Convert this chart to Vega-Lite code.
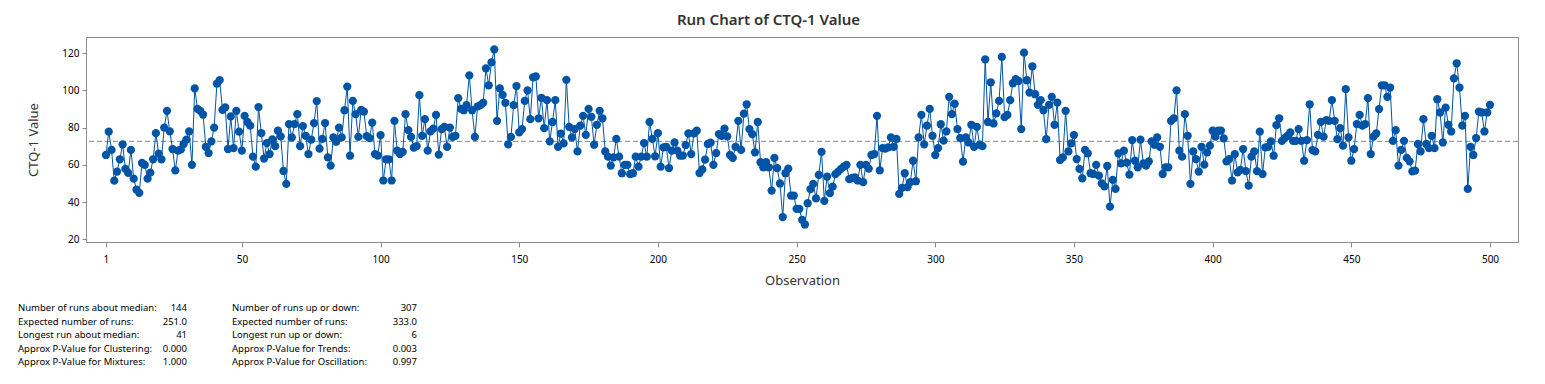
{
"$schema": "https://vega.github.io/schema/vega-lite/v6.json",
"padding": {"left": 18, "top": 12, "right": 20, "bottom": 5},
"background": "white",
"title": {"text": "Run Chart of CTQ-1 Value", "fontSize": 15, "fontWeight": 600, "font": "Noto Sans", "color": "#333333", "anchor": "middle", "offset": 9},
"config": {"view": {"stroke": "#8c8c8c", "strokeWidth": 1}, "font": "Noto Sans"},
"spacing": 15,
"vconcat": [
{
"width": 1432, "height": 205,
"data": {"values": [
{"obs":1,"value":65.3},{"obs":2,"value":77.8},{"obs":3,"value":68},{"obs":4,"value":51.5},{"obs":5,"value":56.4},{"obs":6,"value":63},{"obs":7,"value":71},{"obs":8,"value":57.8},{"obs":9,"value":55.7},{"obs":10,"value":68},
{"obs":11,"value":52.6},{"obs":12,"value":46.7},{"obs":13,"value":45},{"obs":14,"value":61},{"obs":15,"value":60},{"obs":16,"value":52.6},{"obs":17,"value":55.8},{"obs":18,"value":63},{"obs":19,"value":77},{"obs":20,"value":66},
{"obs":21,"value":63},{"obs":22,"value":80},{"obs":23,"value":89},{"obs":24,"value":78},{"obs":25,"value":68.5},{"obs":26,"value":57},{"obs":27,"value":67.6},{"obs":28,"value":68.3},{"obs":29,"value":71.2},{"obs":30,"value":73.5},
{"obs":31,"value":78},{"obs":32,"value":60},{"obs":33,"value":101},{"obs":34,"value":90},{"obs":35,"value":89},{"obs":36,"value":87},{"obs":37,"value":69.7},{"obs":38,"value":66.3},{"obs":39,"value":72.6},{"obs":40,"value":80},
{"obs":41,"value":103.6},{"obs":42,"value":105.5},{"obs":43,"value":89.5},{"obs":44,"value":90.8},{"obs":45,"value":68.5},{"obs":46,"value":86},{"obs":47,"value":69},{"obs":48,"value":89},{"obs":49,"value":77.8},{"obs":50,"value":67.6},
{"obs":51,"value":86.3},{"obs":52,"value":83},{"obs":53,"value":81},{"obs":54,"value":64.4},{"obs":55,"value":59},{"obs":56,"value":91},{"obs":57,"value":77},{"obs":58,"value":63.4},{"obs":59,"value":71.7},{"obs":60,"value":65.8},
{"obs":61,"value":73.7},{"obs":62,"value":70},{"obs":63,"value":78.3},{"obs":64,"value":75.3},{"obs":65,"value":56.7},{"obs":66,"value":49.8},{"obs":67,"value":81.9},{"obs":68,"value":74.7},{"obs":69,"value":81.9},{"obs":70,"value":87.2},
{"obs":71,"value":70},{"obs":72,"value":80.8},{"obs":73,"value":75.6},{"obs":74,"value":65.8},{"obs":75,"value":73.5},{"obs":76,"value":82.4},{"obs":77,"value":94.2},{"obs":78,"value":68.7},{"obs":79,"value":73.9},{"obs":80,"value":82.4},
{"obs":81,"value":64},{"obs":82,"value":59.6},{"obs":83,"value":74.7},{"obs":84,"value":72.4},{"obs":85,"value":80},{"obs":86,"value":74.7},{"obs":87,"value":89.3},{"obs":88,"value":102},{"obs":89,"value":64.9},{"obs":90,"value":94.3},
{"obs":91,"value":87.2},{"obs":92,"value":75},{"obs":93,"value":89.5},{"obs":94,"value":88.6},{"obs":95,"value":75.4},{"obs":96,"value":74.4},{"obs":97,"value":82.7},{"obs":98,"value":65.8},{"obs":99,"value":65},{"obs":100,"value":76},
{"obs":101,"value":51.6},{"obs":102,"value":63},{"obs":103,"value":63},{"obs":104,"value":51.6},{"obs":105,"value":83.6},{"obs":106,"value":67.6},{"obs":107,"value":65.8},{"obs":108,"value":67},{"obs":109,"value":87.2},{"obs":110,"value":78.6},
{"obs":111,"value":75},{"obs":112,"value":69.2},{"obs":113,"value":70},{"obs":114,"value":97.4},{"obs":115,"value":75.6},{"obs":116,"value":84.5},{"obs":117,"value":67.6},{"obs":118,"value":78},{"obs":119,"value":79.4},{"obs":120,"value":86.8},
{"obs":121,"value":65.5},{"obs":122,"value":79.2},{"obs":123,"value":80.4},{"obs":124,"value":69.7},{"obs":125,"value":80},{"obs":126,"value":75},{"obs":127,"value":75.6},{"obs":128,"value":95.8},{"obs":129,"value":90},{"obs":130,"value":89.3},
{"obs":131,"value":92},{"obs":132,"value":108},{"obs":133,"value":89.3},{"obs":134,"value":75},{"obs":135,"value":91.4},{"obs":136,"value":92},{"obs":137,"value":93.3},{"obs":138,"value":111.8},{"obs":139,"value":102.7},{"obs":140,"value":115},
{"obs":141,"value":122},{"obs":142,"value":83.6},{"obs":143,"value":101},{"obs":144,"value":97.5},{"obs":145,"value":93.3},{"obs":146,"value":71},{"obs":147,"value":75},{"obs":148,"value":92},{"obs":149,"value":102.3},{"obs":150,"value":77.4},
{"obs":151,"value":79.2},{"obs":152,"value":94.3},{"obs":153,"value":100},{"obs":154,"value":84.5},{"obs":155,"value":107},{"obs":156,"value":107.5},{"obs":157,"value":85},{"obs":158,"value":96},{"obs":159,"value":79.7},{"obs":160,"value":94.7},
{"obs":161,"value":72.6},{"obs":162,"value":83},{"obs":163,"value":94.7},{"obs":164,"value":69.7},{"obs":165,"value":76.8},{"obs":166,"value":71.5},{"obs":167,"value":105.6},{"obs":168,"value":80.4},{"obs":169,"value":74.7},{"obs":170,"value":79.2},
{"obs":171,"value":67.2},{"obs":172,"value":81},{"obs":173,"value":86.3},{"obs":174,"value":76.1},{"obs":175,"value":90},{"obs":176,"value":85.8},{"obs":177,"value":70.8},{"obs":178,"value":81.5},{"obs":179,"value":89},{"obs":180,"value":85},
{"obs":181,"value":67.2},{"obs":182,"value":64.4},{"obs":183,"value":59.6},{"obs":184,"value":64},{"obs":185,"value":73.9},{"obs":186,"value":64.4},{"obs":187,"value":55.5},{"obs":188,"value":60},{"obs":189,"value":60},{"obs":190,"value":55},
{"obs":191,"value":55.5},{"obs":192,"value":64.4},{"obs":193,"value":59},{"obs":194,"value":64.4},{"obs":195,"value":71.7},{"obs":196,"value":64.4},{"obs":197,"value":83},{"obs":198,"value":73.9},{"obs":199,"value":64.6},{"obs":200,"value":77},
{"obs":201,"value":59},{"obs":202,"value":69.4},{"obs":203,"value":69.7},{"obs":204,"value":58.3},{"obs":205,"value":67.6},{"obs":206,"value":72},{"obs":207,"value":67.6},{"obs":208,"value":65},{"obs":209,"value":65},{"obs":210,"value":70.6},
{"obs":211,"value":76.9},{"obs":212,"value":65.8},{"obs":213,"value":76.9},{"obs":214,"value":78.3},{"obs":215,"value":55.6},{"obs":216,"value":57.6},{"obs":217,"value":62.8},{"obs":218,"value":71.2},{"obs":219,"value":71.9},{"obs":220,"value":60},
{"obs":221,"value":66.3},{"obs":222,"value":76.5},{"obs":223,"value":75.6},{"obs":224,"value":79.4},{"obs":225,"value":75.3},{"obs":226,"value":65.3},{"obs":227,"value":63.7},{"obs":228,"value":69.7},{"obs":229,"value":83.6},{"obs":230,"value":68},
{"obs":231,"value":87.5},{"obs":232,"value":92.5},{"obs":233,"value":79.2},{"obs":234,"value":76.5},{"obs":235,"value":66.7},{"obs":236,"value":83},{"obs":237,"value":61.4},{"obs":238,"value":58.7},{"obs":239,"value":61.4},{"obs":240,"value":58.7},
{"obs":241,"value":46.2},{"obs":242,"value":63.7},{"obs":243,"value":58.3},{"obs":244,"value":50},{"obs":245,"value":32},{"obs":246,"value":55.5},{"obs":247,"value":58},{"obs":248,"value":43.5},{"obs":249,"value":43.5},{"obs":250,"value":36.4},
{"obs":251,"value":36.4},{"obs":252,"value":30.5},{"obs":253,"value":28},{"obs":254,"value":39.4},{"obs":255,"value":47},{"obs":256,"value":49.8},{"obs":257,"value":42},{"obs":258,"value":54.6},{"obs":259,"value":67},{"obs":260,"value":40.7},
{"obs":261,"value":53.7},{"obs":262,"value":44.8},{"obs":263,"value":48.3},{"obs":264,"value":55},{"obs":265,"value":56.4},{"obs":266,"value":57.8},{"obs":267,"value":59},{"obs":268,"value":60},{"obs":269,"value":52.3},{"obs":270,"value":53},
{"obs":271,"value":53.3},{"obs":272,"value":51.6},{"obs":273,"value":60},{"obs":274,"value":50.7},{"obs":275,"value":60},{"obs":276,"value":58},{"obs":277,"value":65.3},{"obs":278,"value":65.8},{"obs":279,"value":86.3},{"obs":280,"value":57},
{"obs":281,"value":69},{"obs":282,"value":68.7},{"obs":283,"value":69.4},{"obs":284,"value":74.7},{"obs":285,"value":69.7},{"obs":286,"value":73.9},{"obs":287,"value":44.4},{"obs":288,"value":47.6},{"obs":289,"value":55.5},{"obs":290,"value":48},
{"obs":291,"value":50.7},{"obs":292,"value":62.2},{"obs":293,"value":51.2},{"obs":294,"value":74.7},{"obs":295,"value":86.8},{"obs":296,"value":71},{"obs":297,"value":81},{"obs":298,"value":90},{"obs":299,"value":75.6},{"obs":300,"value":65.3},
{"obs":301,"value":69},{"obs":302,"value":81.8},{"obs":303,"value":73},{"obs":304,"value":78},{"obs":305,"value":96.5},{"obs":306,"value":87.2},{"obs":307,"value":92.8},{"obs":308,"value":79.2},{"obs":309,"value":74.4},{"obs":310,"value":61.7},
{"obs":311,"value":74.7},{"obs":312,"value":72},{"obs":313,"value":81.5},{"obs":314,"value":69.7},{"obs":315,"value":80.4},{"obs":316,"value":70.8},{"obs":317,"value":70},{"obs":318,"value":116.6},{"obs":319,"value":83},{"obs":320,"value":104.3},
{"obs":321,"value":82.2},{"obs":322,"value":87.6},{"obs":323,"value":94.3},{"obs":324,"value":117.9},{"obs":325,"value":85.6},{"obs":326,"value":86.8},{"obs":327,"value":94.7},{"obs":328,"value":103.8},{"obs":329,"value":106},{"obs":330,"value":105},
{"obs":331,"value":79.2},{"obs":332,"value":120.2},{"obs":333,"value":105.4},{"obs":334,"value":98.8},{"obs":335,"value":112.9},{"obs":336,"value":97.9},{"obs":337,"value":92.2},{"obs":338,"value":94.7},{"obs":339,"value":89.3},{"obs":340,"value":73.8},
{"obs":341,"value":92.2},{"obs":342,"value":96.5},{"obs":343,"value":81.5},{"obs":344,"value":93.4},{"obs":345,"value":62.6},{"obs":346,"value":64},{"obs":347,"value":89},{"obs":348,"value":67.2},{"obs":349,"value":71.5},{"obs":350,"value":76},
{"obs":351,"value":63.1},{"obs":352,"value":57.8},{"obs":353,"value":52.8},{"obs":354,"value":68},{"obs":355,"value":66.2},{"obs":356,"value":55.5},{"obs":357,"value":55.1},{"obs":358,"value":60},{"obs":359,"value":54.2},{"obs":360,"value":50.1},
{"obs":361,"value":48.5},{"obs":362,"value":59.4},{"obs":363,"value":37.6},{"obs":364,"value":51.9},{"obs":365,"value":47.1},{"obs":366,"value":66.2},{"obs":367,"value":60.8},{"obs":368,"value":67.6},{"obs":369,"value":61.2},{"obs":370,"value":54.8},
{"obs":371,"value":73.3},{"obs":372,"value":62.2},{"obs":373,"value":58.7},{"obs":374,"value":73.5},{"obs":375,"value":60.8},{"obs":376,"value":59.6},{"obs":377,"value":61.9},{"obs":378,"value":72.6},{"obs":379,"value":70.8},{"obs":380,"value":74.7},
{"obs":381,"value":69.7},{"obs":382,"value":55.1},{"obs":383,"value":58.7},{"obs":384,"value":58.7},{"obs":385,"value":83.6},{"obs":386,"value":85},{"obs":387,"value":100},{"obs":388,"value":67.6},{"obs":389,"value":64.4},{"obs":390,"value":87.2},
{"obs":391,"value":75.6},{"obs":392,"value":49.8},{"obs":393,"value":67.2},{"obs":394,"value":63.1},{"obs":395,"value":56.4},{"obs":396,"value":69.7},{"obs":397,"value":60.1},{"obs":398,"value":66.7},{"obs":399,"value":70.3},{"obs":400,"value":78.3},
{"obs":401,"value":75.1},{"obs":402,"value":78.3},{"obs":403,"value":78.3},{"obs":404,"value":74.2},{"obs":405,"value":61.9},{"obs":406,"value":63.1},{"obs":407,"value":51.6},{"obs":408,"value":65.8},{"obs":409,"value":56},{"obs":410,"value":57.3},
{"obs":411,"value":68.5},{"obs":412,"value":56.6},{"obs":413,"value":48.9},{"obs":414,"value":64.4},{"obs":415,"value":67.2},{"obs":416,"value":56.6},{"obs":417,"value":77.8},{"obs":418,"value":55.1},{"obs":419,"value":69.4},{"obs":420,"value":69.7},
{"obs":421,"value":72.6},{"obs":422,"value":64.9},{"obs":423,"value":81.3},{"obs":424,"value":85},{"obs":425,"value":72.9},{"obs":426,"value":74.4},{"obs":427,"value":75.6},{"obs":428,"value":77.4},{"obs":429,"value":72.9},{"obs":430,"value":72.9},
{"obs":431,"value":79.2},{"obs":432,"value":72.9},{"obs":433,"value":62.2},{"obs":434,"value":73.3},{"obs":435,"value":92.5},{"obs":436,"value":67.9},{"obs":437,"value":67.2},{"obs":438,"value":76.1},{"obs":439,"value":83.1},{"obs":440,"value":75.1},
{"obs":441,"value":84},{"obs":442,"value":83.6},{"obs":443,"value":94.7},{"obs":444,"value":83.6},{"obs":445,"value":73.8},{"obs":446,"value":79.7},{"obs":447,"value":70.3},{"obs":448,"value":100.6},{"obs":449,"value":74.7},{"obs":450,"value":62.2},
{"obs":451,"value":68.5},{"obs":452,"value":81.9},{"obs":453,"value":86.8},{"obs":454,"value":81},{"obs":455,"value":81.9},{"obs":456,"value":95.8},{"obs":457,"value":65.8},{"obs":458,"value":75.1},{"obs":459,"value":76.9},{"obs":460,"value":89.9},
{"obs":461,"value":102.7},{"obs":462,"value":102.7},{"obs":463,"value":96.5},{"obs":464,"value":101.5},{"obs":465,"value":72.9},{"obs":466,"value":78.6},{"obs":467,"value":59.6},{"obs":468,"value":68},{"obs":469,"value":72.9},{"obs":470,"value":63.7},
{"obs":471,"value":61.9},{"obs":472,"value":56.5},{"obs":473,"value":56.9},{"obs":474,"value":71.2},{"obs":475,"value":67.2},{"obs":476,"value":84.5},{"obs":477,"value":71.2},{"obs":478,"value":69},{"obs":479,"value":75.6},{"obs":480,"value":69},
{"obs":481,"value":95.2},{"obs":482,"value":88.1},{"obs":483,"value":72},{"obs":484,"value":90.7},{"obs":485,"value":81.5},{"obs":486,"value":77.9},{"obs":487,"value":106.4},{"obs":488,"value":114.5},{"obs":489,"value":101.5},{"obs":490,"value":81},
{"obs":491,"value":86.3},{"obs":492,"value":47.1},{"obs":493,"value":69.7},{"obs":494,"value":65.3},{"obs":495,"value":74.4},{"obs":496,"value":88.6},{"obs":497,"value":88.1},{"obs":498,"value":77.9},{"obs":499,"value":88.1},{"obs":500,"value":92.2}
]},
"layer": [
{"transform": [{"aggregate": [{"op": "median", "field": "value", "as": "median"}]}],
 "mark": {"type": "rule", "color": "#8c8c8c", "strokeDash": [5, 3], "strokeWidth": 1},
 "encoding": {"y": {"field": "median", "type": "quantitative", "scale": {"domain": [18.6, 128.6], "nice": false, "zero": false}}}},
{"mark": {"type": "line", "color": "#0054a6", "strokeWidth": 1},
 "encoding": {
  "x": {"field": "obs", "type": "quantitative", "scale": {"domain": [-6.2, 510.1], "nice": false, "zero": false},
        "axis": {"values": [1,50,100,150,200,250,300,350,400,450,500], "title": "Observation", "domain": false, "grid": false, "tickColor": "#8c8c8c", "tickSize": 5, "labelPadding": 7, "labelFontSize": 10, "labelColor": "#000000", "titleFontSize": 13, "titleFontWeight": "normal", "titleColor": "#333333", "titlePadding": 10, "labelFont": "Noto Sans", "titleFont": "Noto Sans"}},
  "y": {"field": "value", "type": "quantitative", "scale": {"domain": [18.6, 128.6], "nice": false, "zero": false},
        "axis": {"values": [20,40,60,80,100,120], "title": "CTQ-1 Value", "domain": false, "grid": false, "tickColor": "#8c8c8c", "tickSize": 4, "labelPadding": 3, "labelFontSize": 10, "labelColor": "#000000", "titleFontSize": 13, "titleFontWeight": "normal", "titleColor": "#333333", "titlePadding": 21, "labelFont": "Noto Sans", "titleFont": "Noto Sans"}}}},
{"mark": {"type": "point", "filled": true, "size": 68, "color": "#0054a6", "opacity": 1},
 "encoding": {
  "x": {"field": "obs", "type": "quantitative"},
  "y": {"field": "value", "type": "quantitative"}}}
]
},
{
"width": 400, "height": 54,
"view": {"stroke": null},
"data": {"values": [
{"col":1,"row":1,"label":"Number of runs about median:","stat":"144"},
{"col":1,"row":2,"label":"Expected number of runs:","stat":"251.0"},
{"col":1,"row":3,"label":"Longest run about median:","stat":"41"},
{"col":1,"row":4,"label":"Approx P-Value for Clustering:","stat":"0.000"},
{"col":1,"row":5,"label":"Approx P-Value for Mixtures:","stat":"1.000"},
{"col":2,"row":1,"label":"Number of runs up or down:","stat":"307"},
{"col":2,"row":2,"label":"Expected number of runs:","stat":"333.0"},
{"col":2,"row":3,"label":"Longest run up or down:","stat":"6"},
{"col":2,"row":4,"label":"Approx P-Value for Trends:","stat":"0.003"},
{"col":2,"row":5,"label":"Approx P-Value for Oscillation:","stat":"0.997"}
]},
"layer": [
{"mark": {"type": "text", "align": "left", "baseline": "middle", "fontSize": 9.5, "font": "Noto Sans", "color": "#000000"},
 "encoding": {
  "x": {"field": "col", "type": "quantitative", "scale": {"domain": [1, 2], "range": [-68, 146]}, "axis": null},
  "y": {"field": "row", "type": "ordinal", "scale": {"type": "point", "padding": 0}, "axis": null},
  "text": {"field": "label"}}},
{"mark": {"type": "text", "align": "right", "baseline": "middle", "fontSize": 9.5, "font": "Noto Sans", "color": "#000000"},
 "encoding": {
  "x": {"field": "col", "type": "quantitative", "scale": {"domain": [1, 2], "range": [101, 331]}, "axis": null},
  "y": {"field": "row", "type": "ordinal", "scale": {"type": "point", "padding": 0}, "axis": null},
  "text": {"field": "stat"}}}
],
"resolve": {"scale": {"x": "independent"}}
}
]
}
